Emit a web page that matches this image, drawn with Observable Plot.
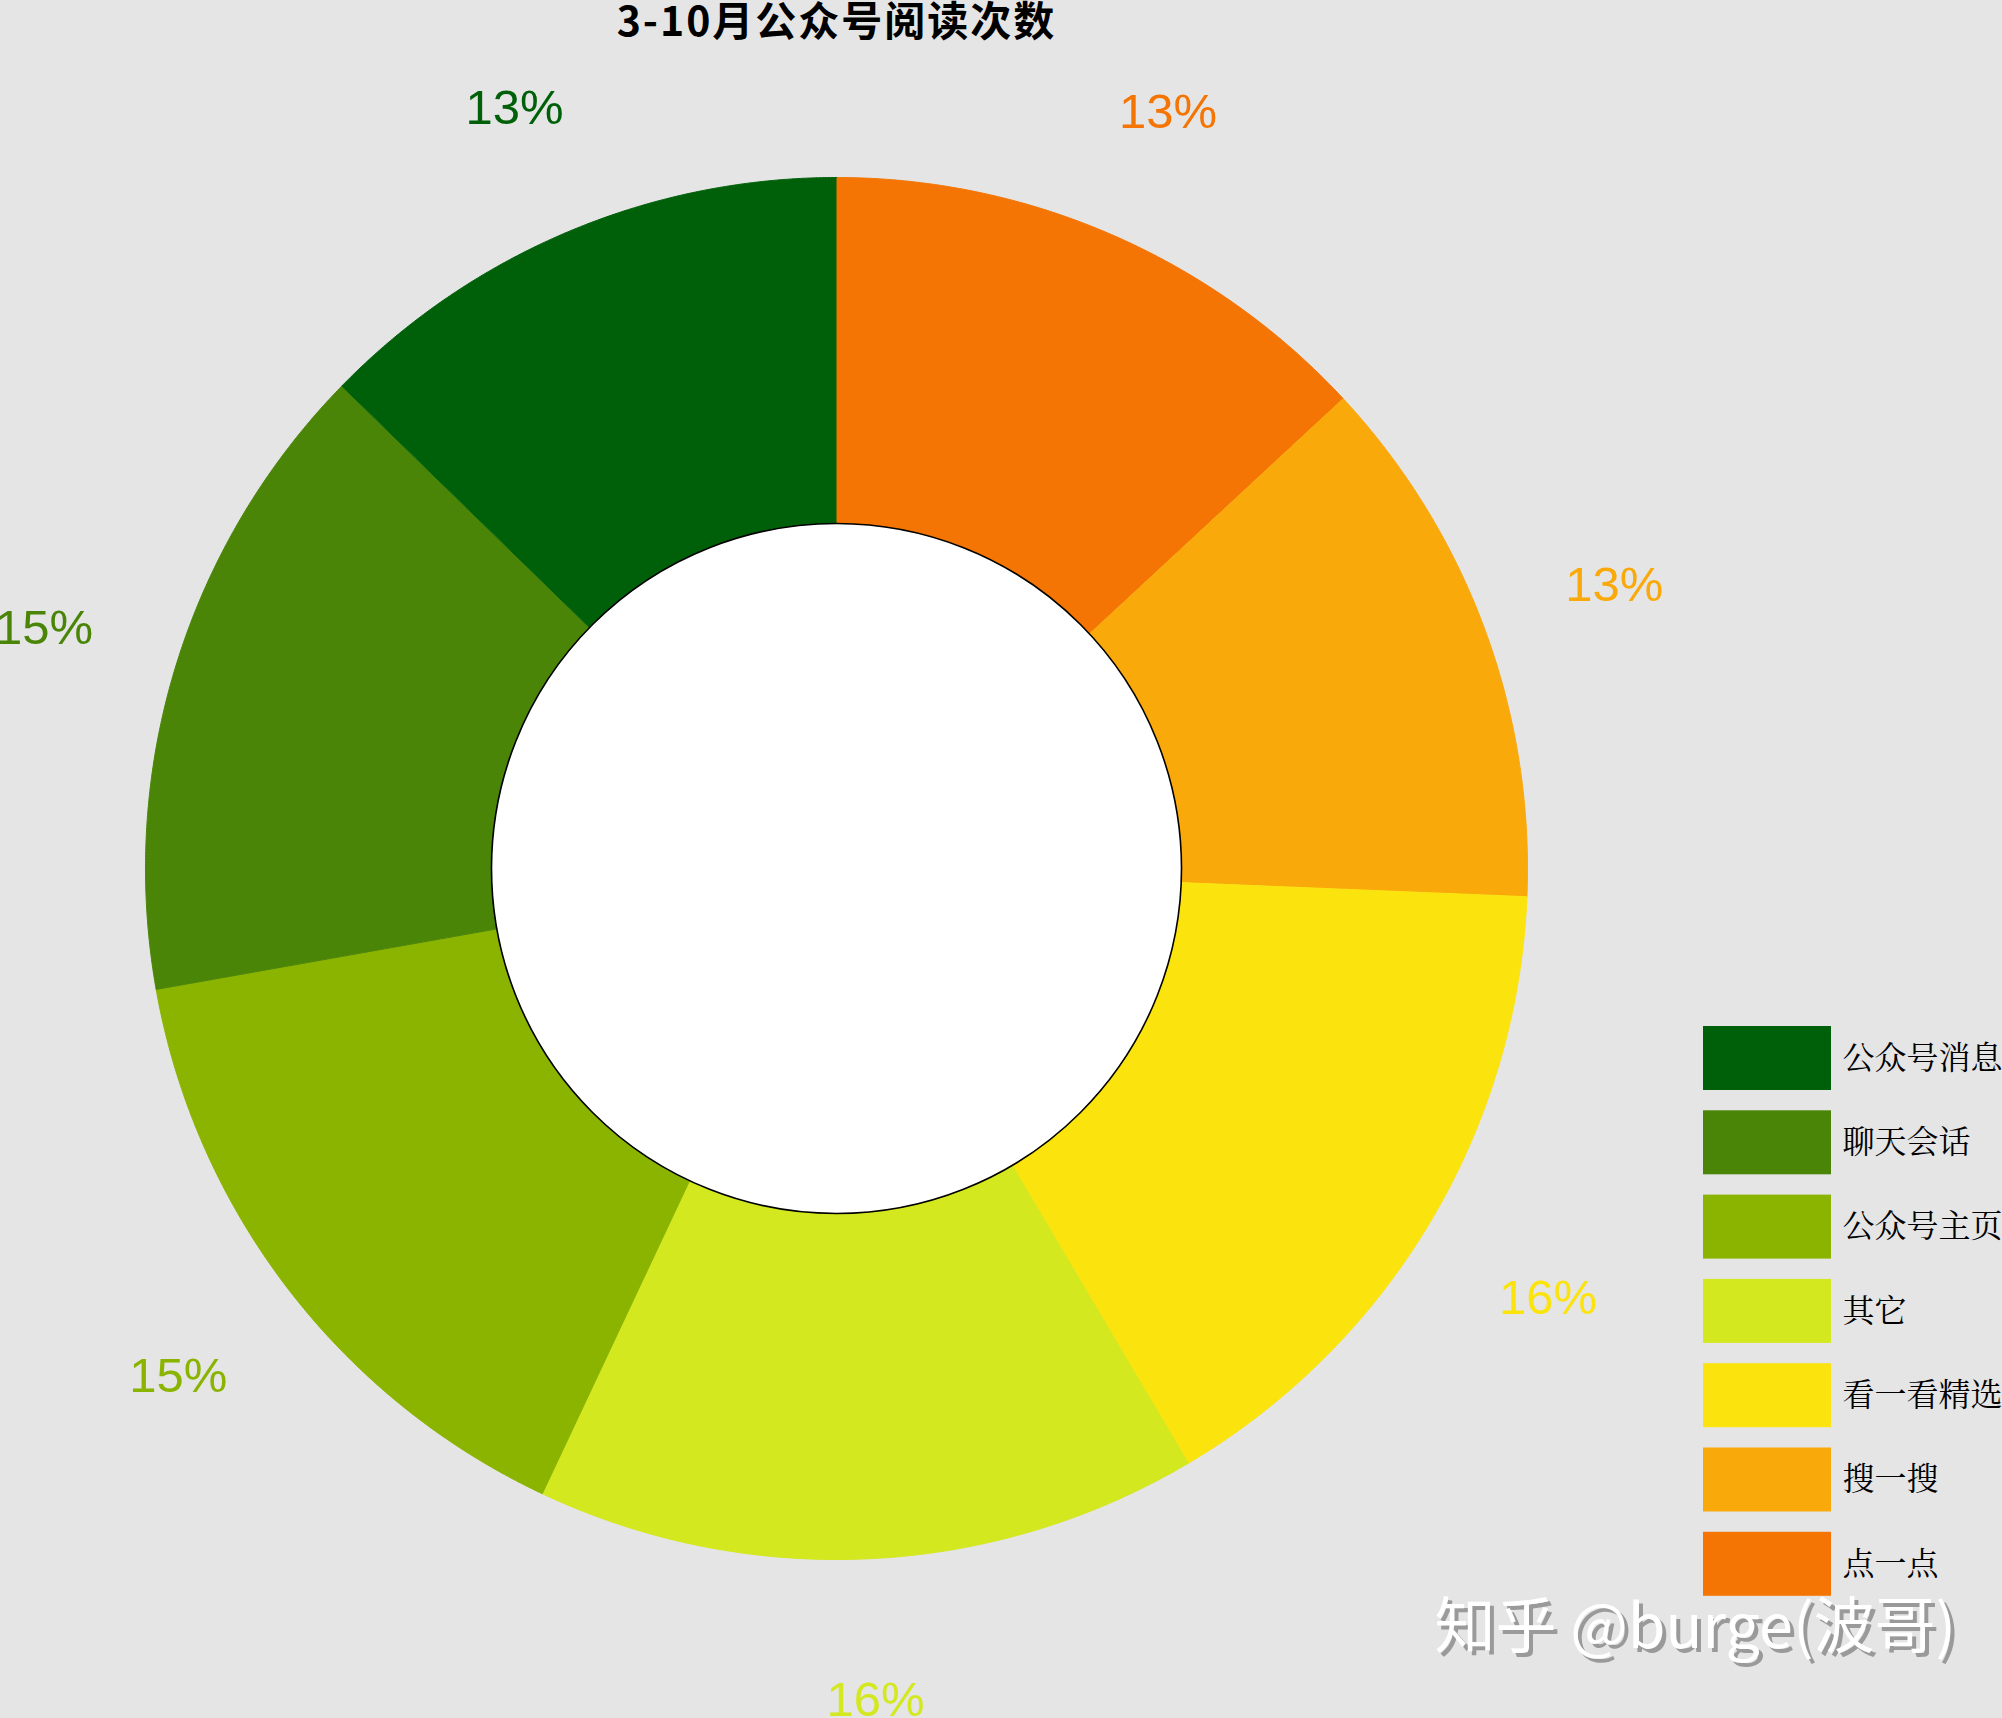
<!DOCTYPE html>
<html>
<head>
<meta charset="utf-8">
<script src="https://cdn.jsdelivr.net/npm/d3@7"></script>
<script src="https://cdn.jsdelivr.net/npm/@observablehq/plot@0.6"></script>
<style>
  html, body { margin: 0; padding: 0; background: #E5E5E5; overflow: hidden; }
  #chart svg { display: block; }
</style>
</head>
<body>
<div id="chart"></div>
<script>
// ---- data ----
const title = "3-10月公众号阅读次数";
const categories = ["公众号消息", "聊天会话", "公众号主页", "其它", "看一看精选", "搜一搜", "点一点"];
const shares = [12.7, 15.1, 15.2, 15.5, 15.85, 12.55, 13.1]; // percent of reads
const palette = ["#00600A", "#4A8507", "#8AB400", "#D3E81E", "#FBE30E", "#F9A90A", "#F47503"];
const watermark = "知乎 @burge(波哥)";

// ---- layout ----
const W = 2002, H = 1718;
const CX = 836, CY = 868, R_OUT = 691, R_IN = 345, R_LABEL = 829;
const LEG_X1 = 1703, LEG_X2 = 1831, LEG_Y0 = 1026, LEG_STEP = 84.3, LEG_H = 64;

// slices run clockwise from 12 o'clock in reverse legend order
const total = d3.sum(shares);
const order = d3.range(categories.length).reverse();
let acc = 0;
const slices = order.map(i => {
  const a0 = acc / total * 2 * Math.PI;
  acc += shares[i];
  const a1 = acc / total * 2 * Math.PI;
  return {cat: categories[i], share: shares[i], a0, a1, mid: (a0 + a1) / 2,
          label: Math.round(shares[i] / total * 100) + "%"};
});

// wedge outlines (center + outer arc)
const wedgePts = [];
for (const s of slices) {
  wedgePts.push({cat: s.cat, x: CX, y: CY});
  const n = Math.max(2, Math.ceil((s.a1 - s.a0) / (Math.PI / 720)));
  for (let k = 0; k <= n; k++) {
    const a = s.a0 + (s.a1 - s.a0) * k / n;
    wedgePts.push({cat: s.cat, x: CX + R_OUT * Math.sin(a), y: CY - R_OUT * Math.cos(a)});
  }
}

const color = {domain: categories, range: palette};
const cjk = "Noto Serif CJK SC, Noto Sans CJK SC, sans-serif";

const chart = Plot.plot({
  width: W, height: H, margin: 0,
  x: {domain: [0, W], range: [0, W], axis: null},
  y: {domain: [0, H], range: [0, H], axis: null},
  color,
  style: {background: "#E5E5E5", overflow: "hidden"},
  marks: [
    Plot.line(wedgePts, {x: "x", y: "y", z: "cat", fill: "cat", stroke: "cat", strokeWidth: 1, curve: "linear"}),
    Plot.dot([0], {x: () => CX, y: () => CY, r: R_IN, fill: "white", stroke: "black", strokeWidth: 1.6}),
    Plot.text(slices, {
      x: d => CX + R_LABEL * Math.sin(d.mid), y: d => CY - R_LABEL * Math.cos(d.mid),
      text: "label", fill: "cat", fontSize: 49, fontFamily: "Liberation Sans, Arial, sans-serif",
      textAnchor: "middle", lineAnchor: "middle", dy: 4
    }),
    Plot.text([title], {
      x: () => CX, y: () => 22, text: d => d, fill: "black", fontSize: 41, fontWeight: "bold",
      fontFamily: "Noto Sans CJK SC, sans-serif", textAnchor: "middle", lineAnchor: "middle"
    }),
    Plot.rect(categories, {
      x1: () => LEG_X1, x2: () => LEG_X2,
      y1: (d, i) => LEG_Y0 + LEG_STEP * i, y2: (d, i) => LEG_Y0 + LEG_STEP * i + LEG_H, fill: d => d
    }),
    Plot.text(categories, {
      x: () => 1842, y: (d, i) => LEG_Y0 + LEG_STEP * i + LEG_H / 2, text: d => d, fill: "black", fontSize: 32,
      fontFamily: cjk, textAnchor: "start", lineAnchor: "middle"
    }),
    Plot.text([watermark], {
      x: () => 1438, y: () => 1632, text: d => d, fill: "#9A9A9A", fontSize: 61,
      fontFamily: "Noto Sans CJK SC, sans-serif", textAnchor: "start", lineAnchor: "middle"
    }),
    Plot.text([watermark], {
      x: () => 1434, y: () => 1628, text: d => d, fill: "white", fontSize: 61,
      fontFamily: "Noto Sans CJK SC, sans-serif", textAnchor: "start", lineAnchor: "middle"
    })
  ]
});

// title letter spacing
chart.querySelectorAll("text").forEach(t => {
  if (t.textContent === title) t.style.letterSpacing = "2px";
});

document.getElementById("chart").appendChild(chart);
</script>
</body>
</html>
